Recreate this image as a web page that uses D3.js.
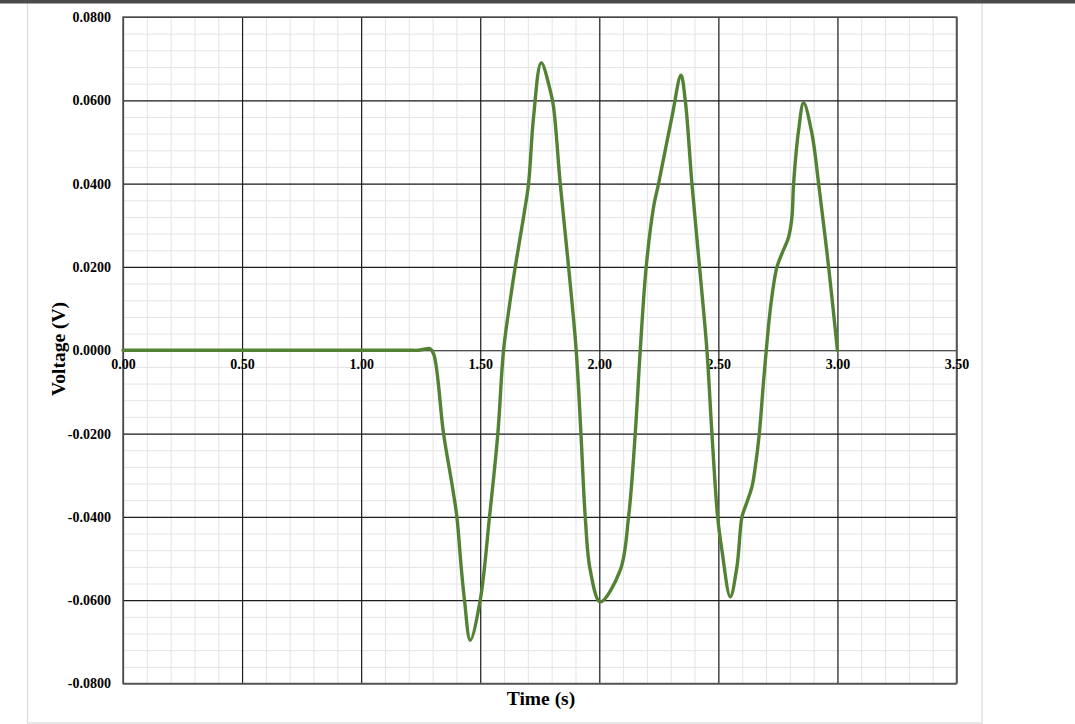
<!DOCTYPE html>
<html>
<head>
<meta charset="utf-8">
<script src="https://cdn.jsdelivr.net/npm/d3@7"></script>
<style>
  body { margin: 0; background: #fff; }
  svg { display: block; }
  text { font-family: "Liberation Serif", "Times New Roman", serif; font-weight: bold; fill: #000; }
</style>
</head>
<body>
<div id="chart"></div>
<script>

// time (s)
const times = [0, 0.5, 1.0, 1.2, 1.24, 1.27, 1.288, 1.305, 1.346, 1.381, 1.402, 1.420, 1.434, 1.458, 1.50, 1.539, 1.574, 1.598, 1.626, 1.647, 1.682, 1.703, 1.724, 1.756, 1.794, 1.808, 1.836, 1.871, 1.903, 1.923, 1.941, 1.962, 2.004, 2.088, 2.123, 2.151, 2.172, 2.197, 2.228, 2.249, 2.305, 2.343, 2.361, 2.389, 2.421, 2.452, 2.473, 2.497, 2.515, 2.550, 2.578, 2.599, 2.613, 2.641, 2.655, 2.672, 2.692, 2.721, 2.746, 2.767, 2.795, 2.809, 2.816, 2.837, 2.858, 2.893, 2.921, 2.963, 3.0]

// voltage (V)
const voltages = [0, 0, 0, 0, 0, 0.0003, 0.0004, -0.001, -0.02, -0.032, -0.04, -0.052, -0.06, -0.0696, -0.06, -0.04, -0.02, 0, 0.012, 0.02, 0.032, 0.04, 0.056, 0.069, 0.0624, 0.0584, 0.04, 0.02, 0, -0.02, -0.04, -0.0528, -0.0604, -0.0528, -0.04, -0.02, 0, 0.02, 0.0344, 0.04, 0.056, 0.066, 0.06, 0.04, 0.02, 0, -0.02, -0.04, -0.048, -0.0592, -0.052, -0.04, -0.0376, -0.0328, -0.028, -0.02, -0.006, 0.0112, 0.02, 0.0232, 0.0272, 0.032, 0.04, 0.0528, 0.0594, 0.052, 0.04, 0.02, 0]

const xTicks = [0, 0.5, 1, 1.5, 2, 2.5, 3, 3.5]
const yTicks = [-0.08, -0.06, -0.04, -0.02, 0, 0.02, 0.04, 0.06, 0.08]
const xMinor = d3.range(0, 35).map(i => i / 10)
const yMinor = d3.range(-20, 21).map(i => i * 0.004)

const width = 1075
const height = 724
const margin = {top: 17, right: 118.5, bottom: 40.5, left: 123}
const innerW = width - margin.left - margin.right
const innerH = height - margin.top - margin.bottom

// excel style labels, plain hyphen for negatives
const fmtY = d => d3.format('.4f')(d).replace('−', '-')
const fmtX = d => d3.format('.2f')(d)

const svg = d3.select('#chart')
.append('svg')
.attr('width', width)
.attr('height', height)

// outer frame + top bar
svg.append('rect')
.attr('x', 27.5).attr('y', 1).attr('width', 954.5).attr('height', 722)
.attr('fill', '#fff').attr('stroke', '#dcdcdc').attr('stroke-width', 1.3)

svg.append('rect')
.attr('x', 0).attr('y', 0).attr('width', width).attr('height', 3.5)
.attr('fill', '#4a4a4a')

const x = d3.scaleLinear().domain([0, 3.5]).range([margin.left, margin.left + innerW])
const y = d3.scaleLinear().domain([-0.08, 0.08]).range([margin.top + innerH, margin.top])

const grid = svg.append('g')

// minor grid
grid.append('g')
.attr('transform', `translate(0,${margin.top + innerH})`)
.call(d3.axisBottom(x).tickValues(xMinor).tickSize(-innerH).tickFormat(''))
.call(g => g.select('.domain').remove())
.call(g => g.selectAll('line').attr('stroke', '#e4e4e4').attr('stroke-width', 1))

grid.append('g')
.attr('transform', `translate(${margin.left},0)`)
.call(d3.axisLeft(y).tickValues(yMinor).tickSize(-innerW).tickFormat(''))
.call(g => g.select('.domain').remove())
.call(g => g.selectAll('line').attr('stroke', '#e4e4e4').attr('stroke-width', 1))

// major grid
grid.append('g')
.attr('transform', `translate(0,${margin.top + innerH})`)
.call(d3.axisBottom(x).tickValues(xTicks).tickSize(-innerH).tickFormat(''))
.call(g => g.select('.domain').remove())
.call(g => g.selectAll('line').attr('stroke', '#1e1e1e').attr('stroke-width', 1.2))

grid.append('g')
.attr('transform', `translate(${margin.left},0)`)
.call(d3.axisLeft(y).tickValues(yTicks).tickSize(-innerW).tickFormat(''))
.call(g => g.select('.domain').remove())
.call(g => g.selectAll('line').attr('stroke', '#1e1e1e').attr('stroke-width', 1.2))

// plot border
svg.append('rect')
.attr('x', margin.left).attr('y', margin.top).attr('width', innerW).attr('height', innerH)
.attr('fill', 'none').attr('stroke', '#555').attr('stroke-width', 1.5)

// y tick labels
svg.append('g')
.attr('transform', `translate(${margin.left},0)`)
.call(d3.axisLeft(y).tickValues(yTicks).tickSize(0).tickPadding(12).tickFormat(fmtY))
.call(g => g.select('.domain').remove())
.call(g => g.selectAll('text')
	.attr('font-size', 14)
	.attr('font-family', '"Liberation Serif", "Times New Roman", serif')
	.attr('font-weight', 'bold')
	.attr('fill', '#000'))

// x tick labels sit under the zero line
svg.append('g')
.attr('transform', `translate(0,${y(0)})`)
.call(d3.axisBottom(x).tickValues(xTicks).tickSize(0).tickPadding(9).tickFormat(fmtX))
.call(g => g.select('.domain').remove())
.call(g => g.selectAll('text')
	.attr('font-size', 14)
	.attr('font-family', '"Liberation Serif", "Times New Roman", serif')
	.attr('font-weight', 'bold')
	.attr('fill', '#000'))

const data = times.map((t, i) => ({t: t, v: voltages[i]}))

// smoothed like the spreadsheet line
const line = d3.line()
.x(d => x(d.t))
.y(d => y(d.v))
.curve(d3.curveCatmullRom.alpha(0.5))

svg.append('path')
.datum(data)
.attr('d', line)
.attr('fill', 'none')
.attr('stroke', '#548235')
.attr('stroke-width', 3.4)
.attr('stroke-linejoin', 'round')
.attr('stroke-linecap', 'round')

// axis titles
svg.append('text')
.attr('x', 541)
.attr('y', 705)
.attr('text-anchor', 'middle')
.attr('font-size', 19.5)
.text('Time (s)')

svg.append('text')
.attr('transform', 'translate(65,349) rotate(-90)')
.attr('text-anchor', 'middle')
.attr('font-size', 19.5)
.text('Voltage (V)')

</script>
</body>
</html>
